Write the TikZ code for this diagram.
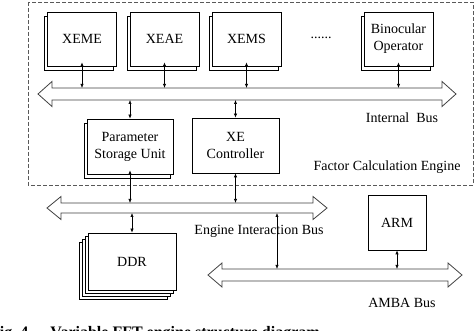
\documentclass[tikz,border=0pt]{standalone}
\usepackage{fontspec}
\setmainfont{Liberation Serif}
\usetikzlibrary{arrows.meta,shadows}

\tikzset{
  block/.style={draw, fill=white, line width=0.6pt, minimum width=69pt,
    minimum height=54pt, align=center, inner sep=2pt},
  stackbox/.style={block, copy shadow={shadow xshift=-3pt, shadow yshift=-4pt}},
  ddrstack/.style={block,
    copy shadow={shadow xshift=-9pt, shadow yshift=-9pt},
    copy shadow={shadow xshift=-6pt, shadow yshift=-6pt},
    copy shadow={shadow xshift=-3pt, shadow yshift=-3pt}},
  link/.style={{Latex[length=4pt,width=3.2pt]}-{Latex[length=4pt,width=3.2pt]},
    line width=0.6pt},
  bus/.style={draw=black!75, line width=0.8pt, fill=white},
}

% hollow double-headed bus: name, left tip, right tip, centre y, shaft half, head half
\newcommand{\drawbus}[6]{%
  \draw[bus] (#2,#4) -- ++(14,-#6) -- ++(0,#6-#5) -- (#3-14,#4-#5) -- ++(0,#5-#6)
    -- (#3,#4) -- ++(-14,#6) -- ++(0,#5-#6) -- (#2+14,#4+#5) -- ++(0,#6-#5) -- cycle;
  \coordinate (#1-n) at (#2,#4-#5);
  \coordinate (#1-s) at (#2,#4+#5);
}

\begin{document}
\begin{tikzpicture}[x=1pt, y=-1pt, font=\fontsize{14}{17}\selectfont]
    \useasboundingbox (0,0) rectangle (474,331);

    % engine frame
    \draw[black!65, line width=0.8pt, dash pattern=on 4pt off 2pt] (28,2) rectangle (473,185);

    % buses
    \drawbus{ibus}{38}{456}{94}{6}{12.5}
    \drawbus{eib}{47}{327}{208}{5}{11.5}
    \drawbus{amba}{208}{462}{275}{6}{12}

    % units
    \node[stackbox] (xeme) at (82,39) {XEME};
    \node[stackbox] (xeae) at (164.5,39) {XEAE};
    \node[stackbox] (xems) at (246.5,39) {XEMS};
    \node (dots) at (321,38) {......};
    \node[stackbox] (bino) at (398.5,39) {Binocular\\Operator};

    \node[stackbox, minimum width=86pt, minimum height=55pt] (param) at (130,146.5) {Parameter\\Storage Unit};
    \node[block, minimum width=87pt, minimum height=55pt] (xectl) at (235.5,145.5) {XE\\Controller};

    \node[ddrstack, minimum width=88pt, minimum height=57pt] (ddr) at (132,261.5) {DDR};
    \node[block, minimum width=58pt, minimum height=55pt] (arm) at (397,222.5) {ARM};

    % labels
    \node (ibuslbl) at (402,118) {Internal\ \ Bus};
    \node (fcelbl) at (387,167) {Factor Calculation Engine};
    \node (eiblbl) at (259,231) {Engine Interaction Bus};
    \node (ambalbl) at (402,303) {AMBA Bus};
    \node[anchor=base west, inner sep=0pt, font=\fontsize{16}{19}\selectfont\bfseries] (caption) at (-10,337)
        {Fig.~4\hspace{22pt}Variable FFT engine structure diagram};

    % connections
    \draw[link, shorten <=-4pt] (xeme) -- (xeme |- ibus-n);
    \draw[link, shorten <=-4pt] (xeae) -- (xeae |- ibus-n);
    \draw[link, shorten <=-4pt] (xems) -- (xems |- ibus-n);
    \draw[link, shorten <=-4pt] (bino) -- (bino |- ibus-n);

    \draw[link] (param.north |- ibus-s) -- (param);
    \draw[link] (xectl.north |- ibus-s) -- (xectl);
    \draw[link, shorten <=-4pt] (param) -- (param |- eib-n);
    \draw[link] (xectl) -- (xectl |- eib-n);

    \draw[link] (ddr.north |- eib-s) -- (ddr);
    \coordinate (tap) at (277,0);
    \draw[link] (tap |- eib-s) -- (tap |- amba-n);
    \draw[link] (arm) -- (arm |- amba-n);
\end{tikzpicture}
\end{document}
